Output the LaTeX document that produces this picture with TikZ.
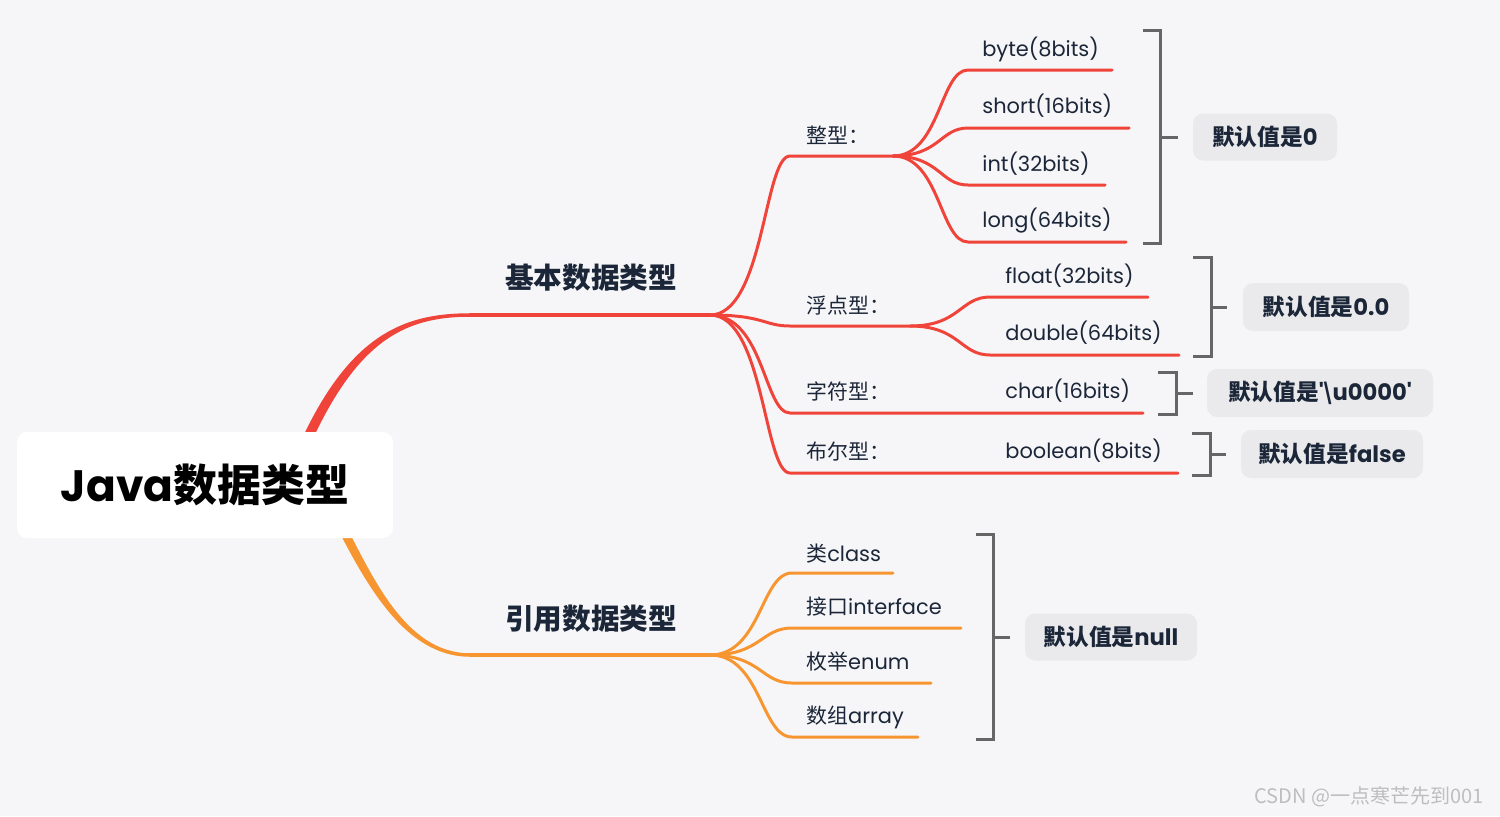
\documentclass[tikz,border=0pt]{standalone}
\usepackage{fontspec}
\setmainfont{Poppins}
\newfontfamily\cjk{Noto Sans CJK SC}
\newfontfamily\latnm{Poppins}
\definecolor{bg}{RGB}{246,246,248}
\definecolor{myred}{RGB}{240,68,58}
\definecolor{myorange}{RGB}{247,150,48}
\definecolor{ink}{RGB}{27,38,56}
\definecolor{brk}{RGB}{102,102,102}
\definecolor{boxfill}{RGB}{234,234,236}
\definecolor{wm}{RGB}{190,190,190}
\newcommand{\zh}[1]{{\cjk #1}}
\begin{document}
\begin{tikzpicture}[x=0.02cm,y=-0.02cm,
  leaf/.style={anchor=base west, inner sep=0, text=ink, font=\fontsize{11.9}{14}\selectfont},
  lvlone/.style={anchor=center, inner sep=0, text=ink, font=\fontsize{16.3}{19}\selectfont\bfseries},
  valbox/.style={fill=boxfill, rounded corners=0.2cm, text=ink, font=\fontsize{12.9}{15}\selectfont\bfseries, inner sep=0},
  rline/.style={draw=myred, line width=1.7pt, line cap=round},
  oline/.style={draw=myorange, line width=1.7pt, line cap=round},
  brack/.style={draw=brk, line width=1.7pt},
]
\fill[bg] (0,0) rectangle (1500,816);
\useasboundingbox (0,0) rectangle (1500,816);

% hubs
\coordinate (rhub) at (710,315);
\coordinate (ohub) at (710,655);
\coordinate (zx) at (893,156);
\coordinate (fp) at (910,326);

% main tapered branches
\fill[myred] (295.4,453) .. controls (346,337.5) and (400,313.25) .. (470,313.25)
  -- (470,316.75) .. controls (402,316.75) and (354,342.5) .. (304.6,457) -- cycle;
\draw[rline, line width=2pt] (470,315) -- (rhub);
\fill[myorange] (340,514) .. controls (372,576) and (405,653.25) .. (470,653.25)
  -- (470,656.75) .. controls (403,656.75) and (364,580) .. (332,518) -- cycle;
\draw[oline, line width=2pt] (470,655) -- (ohub);

% level 2 red
\draw[rline] (rhub) .. controls (764,315) and (764,156) .. (790,156) -- (zx);
\draw[rline] (rhub) .. controls (764,315) and (764,326) .. (790,326) -- (fp);
\draw[rline] (rhub) .. controls (764,315) and (764,413) .. (790,413) -- (1143,413);
\draw[rline] (rhub) .. controls (764,315) and (764,473) .. (790,473) -- (1178,473);

% level 3 integer
\draw[rline] (zx) .. controls (940,156) and (940,70) .. (968,70) -- (1112,70);
\draw[rline] (zx) .. controls (940,156) and (940,128) .. (968,128) -- (1129,128);
\draw[rline] (zx) .. controls (940,156) and (940,185) .. (968,185) -- (1105,185);
\draw[rline] (zx) .. controls (940,156) and (940,242) .. (968,242) -- (1126,242);

% level 3 float
\draw[rline] (fp) .. controls (960,326) and (960,297) .. (990,297) -- (1148,297);
\draw[rline] (fp) .. controls (960,326) and (960,355) .. (990,355) -- (1179,355);

% orange level 2
\draw[oline] (ohub) .. controls (761,655) and (761,573) .. (792,573) -- (893,573);
\draw[oline] (ohub) .. controls (761,655) and (761,628) .. (792,628) -- (961,628);
\draw[oline] (ohub) .. controls (761,655) and (761,683) .. (792,683) -- (931,683);
\draw[oline] (ohub) .. controls (761,655) and (761,737) .. (792,737) -- (918,737);

% root
\node[fill=white, rounded corners=0.2cm, minimum width=7.52cm, minimum height=2.12cm, inner sep=0,
  font=\fontsize{25}{30}\selectfont] (root) at (205,485) {{\bfseries Java}{\cjk\bfseries 数据类型}};

% level 1 labels
\node[lvlone] (basic) at (591,278) {\cjk\bfseries 基本数据类型};
\node[lvlone] (ref) at (591,619) {\cjk\bfseries 引用数据类型};

% level 2 labels
\node[leaf] (lint) at (806,143) {\zh{整型：}};
\node[leaf] (lfp) at (806,313) {\zh{浮点型：}};
\node[leaf] (lch) at (806,399) {\zh{字符型：}};
\node[leaf] (lbo) at (806,459) {\zh{布尔型：}};

% leaves
\node[leaf] (byte) at (982,56) {byte(8bits)};
\node[leaf] (short) at (982,113) {short(16bits)};
\node[leaf] (int) at (982,171) {int(32bits)};
\node[leaf] (long) at (982,227) {long(64bits)};
\node[leaf] (float) at (1005,283) {float(32bits)};
\node[leaf] (double) at (1005,340) {double(64bits)};
\node[leaf] (char) at (1005,398) {char(16bits)};
\node[leaf] (bool) at (1005,458) {boolean(8bits)};

\node[leaf] (cls) at (806,561) {\zh{类}class};
\node[leaf] (itf) at (806,614) {\zh{接口}interface};
\node[leaf] (enm) at (806,669) {\zh{枚举}enum};
\node[leaf] (arr) at (806,723) {\zh{数组}array};

% value boxes
\node[valbox, minimum width=2.88cm, minimum height=0.94cm] (v0) at (1265,137) {\zh{默认值是}0};
\node[valbox, minimum width=3.32cm, minimum height=0.96cm] (v1) at (1326,307) {\zh{默认值是}0.0};
\node[valbox, minimum width=4.52cm, minimum height=0.96cm] (v2) at (1320,393) {\zh{默认值是}{\latnm '}{\cjk\bfseries\textbackslash}u0000{\latnm '}};
\node[valbox, minimum width=3.64cm, minimum height=0.96cm] (v3) at (1332,454) {\zh{默认值是}false};
\node[valbox, minimum width=3.44cm, minimum height=0.94cm] (v4) at (1111,637) {\zh{默认值是}null};

% brackets
\coordinate (b0) at (1160,137);
\draw[brack] (1143,30) -- (1160,30) -- (1160,243) -- (1143,243);
\draw[brack] (b0) -- ([xshift=-0.3cm]v0.west);
\coordinate (b1) at (1211,307);
\draw[brack] (1193,257) -- (1211,257) -- (1211,356) -- (1193,356);
\draw[brack] (b1) -- ([xshift=-0.32cm]v1.west);
\coordinate (b2) at (1176,393);
\draw[brack] (1158,372) -- (1176,372) -- (1176,414) -- (1158,414);
\draw[brack] (b2) -- ([xshift=-0.28cm]v2.west);
\coordinate (b3) at (1210,454);
\draw[brack] (1192,433) -- (1210,433) -- (1210,475) -- (1192,475);
\draw[brack] (b3) -- ([xshift=-0.3cm]v3.west);
\coordinate (b4) at (993,637);
\draw[brack] (976,534) -- (993,534) -- (993,739) -- (976,739);
\draw[brack] (b4) -- ([xshift=-0.3cm]v4.west);

% watermark
\node[anchor=base east, inner sep=0, text=wm, font=\cjk\fontsize{11.4}{13}\selectfont] (wmk) at (1484,803) {CSDN @一点寒芒先到001};
\end{tikzpicture}
\end{document}
